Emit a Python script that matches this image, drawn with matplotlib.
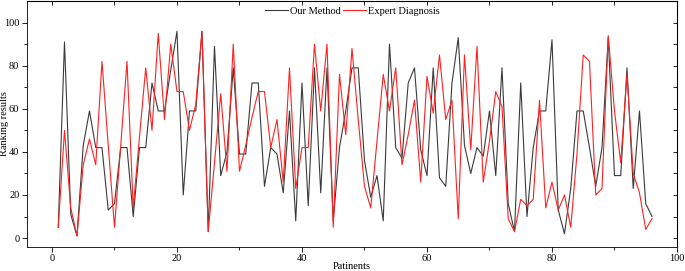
import numpy as np
import matplotlib
matplotlib.use("Agg")
import matplotlib.pyplot as plt
from matplotlib.ticker import MultipleLocator

plt.rcParams['font.family'] = ['Liberation Serif', 'DejaVu Serif']

patients = np.arange(1, 97)

our_method = [5, 91, 11, 1, 43, 59, 42, 42, 13, 16, 42, 42, 10, 42, 42, 72, 59, 59, 78, 96,
              20, 59, 59, 96, 3, 89, 29, 40, 79, 39, 39, 72, 72, 24, 42, 39, 21, 59, 8, 72,
              15, 79, 21, 79, 8, 42, 59, 79, 79, 36, 19, 29, 8, 90, 42, 37, 72, 79, 41, 29,
              79, 28, 24, 72, 93, 43, 30, 42, 38, 59, 29, 79, 16, 3, 72, 10, 42, 59, 59, 92,
              13, 2, 23, 59, 59, 42, 24, 42, 93, 29, 29, 79, 23, 59, 16, 10]

expert = [5, 50, 14, 1, 34, 46, 34, 82, 43, 5, 43, 82, 14, 47, 79, 50, 95, 55, 90, 68,
          68, 50, 62, 96, 3, 35, 67, 31, 90, 31, 43, 56, 68, 68, 42, 55, 26, 79, 23, 42,
          42, 90, 59, 90, 5, 76, 48, 88, 55, 24, 14, 45, 76, 59, 79, 34, 48, 64, 26, 75,
          58, 85, 55, 64, 9, 85, 41, 89, 26, 45, 68, 61, 9, 3, 18, 15, 18, 64, 14, 26,
          13, 20, 5, 39, 85, 82, 20, 23, 94, 59, 35, 76, 30, 21, 4, 9]

fig = plt.figure(figsize=(6.85, 2.71), dpi=100)
ax = fig.add_axes([0.0394, 0.0897, 0.9489, 0.9063])

ax.plot(patients, our_method, color='#3a3a3a', lw=0.8, label='Our Method')
ax.plot(patients, expert, color='#ff2020', lw=0.8, label='Expert Diagnosis')

ax.set_xlim(-4, 100)
ax.set_ylim(-4, 110)
ax.xaxis.set_major_locator(MultipleLocator(20))
ax.xaxis.set_minor_locator(MultipleLocator(10))
ax.set_yticks(np.arange(0, 101, 20))
ax.set_yticks(np.arange(10, 101, 20), minor=True)
ax.tick_params(which='both', labelsize=7.5, direction='out', width=0.6, pad=2)
ax.tick_params(which='major', length=3.5)
ax.tick_params(which='minor', length=2)

top = ax.secondary_xaxis('top')
top.xaxis.set_major_locator(MultipleLocator(10))
top.tick_params(direction='in', length=3, width=0.6, labeltop=False)
right = ax.secondary_yaxis('right')
right.set_yticks(np.arange(0, 101, 10))
right.tick_params(direction='in', length=3, width=0.6, labelright=False)

for sp in ax.spines.values():
    sp.set_linewidth(0.6)

ax.set_xlabel('Patinents', fontsize=7.5)
ax.xaxis.set_label_coords(0.5, -0.064)
ax.set_ylabel('Ranking results', fontsize=7.5)
ax.yaxis.set_label_coords(-0.027, 0.5)

ax.legend(loc='upper center', ncol=2, frameon=False, fontsize=7.5, handlelength=2.2,
          handletextpad=0.2, columnspacing=0.2, borderaxespad=0.15)

fig.savefig('out.png', dpi=100)
